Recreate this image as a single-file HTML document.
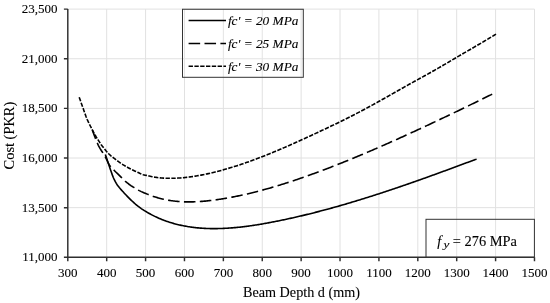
<!DOCTYPE html>
<html><head><meta charset="utf-8"><title>Cost vs Beam Depth</title>
<style>
html,body{margin:0;padding:0;background:#fff;}
svg{display:block;}
text{font-family:"Liberation Serif","Times New Roman",serif;fill:#000;stroke:#000;stroke-width:0.1px;}
.tk{font-size:13px;}
.ax{font-size:14.2px;}
.lg{font-size:13.3px;font-style:italic;}
</style></head><body>
<svg width="550" height="303" viewBox="0 0 550 303">
<rect width="550" height="303" fill="#fff"/>
<path d="M106.69,9.1 V257.3 M145.58,9.1 V257.3 M184.47,9.1 V257.3 M223.36,9.1 V257.3 M262.25,9.1 V257.3 M301.14,9.1 V257.3 M340.03,9.1 V257.3 M378.92,9.1 V257.3 M417.81,9.1 V257.3 M456.70,9.1 V257.3 M495.59,9.1 V257.3 M534.48,9.1 V257.3 M67.8,9.10 H534.48 M67.8,58.74 H534.48 M67.8,108.38 H534.48 M67.8,158.02 H534.48 M67.8,207.66 H534.48" stroke="#e1e1e1" stroke-width="1" fill="none"/>
<path d="M105.30,154.40 L106.30,157.34 L107.30,160.29 L108.30,163.23 L109.30,166.19 L110.30,169.17 L111.30,172.03 L112.30,174.88 L113.30,177.52 L114.30,179.74 L115.30,181.67 L116.30,183.41 L117.30,184.97 L118.30,186.35 L119.30,187.59 L120.30,188.73 L121.30,189.84 L122.30,190.97 L123.30,192.09 L124.30,193.19 L125.30,194.26 L126.30,195.31 L127.30,196.36 L128.30,197.38 L129.30,198.39 L130.30,199.38 L131.30,200.34 L132.30,201.28 L133.30,202.19 L134.30,203.10 L135.30,203.98 L136.30,204.84 L137.30,205.67 L138.30,206.47 L139.30,207.22 L140.30,207.94 L141.30,208.64 L142.30,209.30 L143.30,209.95 L144.30,210.57 L145.30,211.19 L146.30,211.78 L147.30,212.37 L148.30,212.95 L149.30,213.52 L150.30,214.07 L151.30,214.61 L152.30,215.13 L153.30,215.63 L154.30,216.12 L155.30,216.60 L156.30,217.06 L157.30,217.52 L158.30,217.97 L159.30,218.41 L160.30,218.83 L161.30,219.24 L162.30,219.65 L163.30,220.04 L164.30,220.42 L165.30,220.79 L166.30,221.15 L167.30,221.49 L168.30,221.83 L169.30,222.16 L170.30,222.48 L171.30,222.79 L172.30,223.08 L173.30,223.37 L174.30,223.65 L175.30,223.92 L176.30,224.18 L177.30,224.44 L178.30,224.68 L179.30,224.91 L180.30,225.14 L181.30,225.36 L182.30,225.57 L183.30,225.77 L184.30,225.97 L185.30,226.15 L186.30,226.33 L187.30,226.50 L188.30,226.67 L189.30,226.82 L190.30,226.97 L191.30,227.12 L192.30,227.25 L193.30,227.38 L194.30,227.50 L195.30,227.62 L196.30,227.73 L197.30,227.83 L198.30,227.92 L199.30,228.01 L200.30,228.09 L201.30,228.17 L202.30,228.24 L203.30,228.30 L204.30,228.36 L205.30,228.41 L206.30,228.45 L207.30,228.49 L208.30,228.53 L209.30,228.56 L210.30,228.58 L211.30,228.60 L212.30,228.61 L213.30,228.61 L214.30,228.62 L215.30,228.61 L216.30,228.60 L217.30,228.59 L218.30,228.57 L219.30,228.55 L220.30,228.52 L221.30,228.49 L222.30,228.45 L223.30,228.41 L224.30,228.36 L225.30,228.31 L226.30,228.26 L227.30,228.20 L228.30,228.13 L229.30,228.07 L230.30,228.00 L231.30,227.92 L232.30,227.84 L233.30,227.76 L234.30,227.67 L235.30,227.58 L236.30,227.49 L237.30,227.39 L238.30,227.29 L239.30,227.19 L240.30,227.08 L241.30,226.97 L242.30,226.85 L243.30,226.73 L244.30,226.61 L245.30,226.49 L246.30,226.36 L247.30,226.23 L248.30,226.09 L249.30,225.96 L250.30,225.82 L251.30,225.67 L252.30,225.53 L253.30,225.38 L254.30,225.23 L255.30,225.07 L256.30,224.92 L257.30,224.76 L258.30,224.60 L259.30,224.43 L260.30,224.26 L261.30,224.10 L262.30,223.92 L263.30,223.75 L264.30,223.57 L265.30,223.40 L266.30,223.22 L267.30,223.03 L268.30,222.85 L269.30,222.66 L270.30,222.48 L271.30,222.29 L272.30,222.09 L273.30,221.90 L274.30,221.71 L275.30,221.51 L276.30,221.31 L277.30,221.11 L278.30,220.91 L279.30,220.71 L280.30,220.50 L281.30,220.29 L282.30,220.09 L283.30,219.88 L284.30,219.67 L285.30,219.45 L286.30,219.24 L287.30,219.02 L288.30,218.81 L289.30,218.59 L290.30,218.37 L291.30,218.15 L292.30,217.92 L293.30,217.70 L294.30,217.47 L295.30,217.25 L296.30,217.02 L297.30,216.79 L298.30,216.55 L299.30,216.32 L300.30,216.09 L301.30,215.85 L302.30,215.61 L303.30,215.37 L304.30,215.13 L305.30,214.89 L306.30,214.65 L307.30,214.40 L308.30,214.16 L309.30,213.91 L310.30,213.66 L311.30,213.41 L312.30,213.16 L313.30,212.91 L314.30,212.65 L315.30,212.40 L316.30,212.14 L317.30,211.88 L318.30,211.62 L319.30,211.36 L320.30,211.10 L321.30,210.84 L322.30,210.57 L323.30,210.31 L324.30,210.04 L325.30,209.77 L326.30,209.50 L327.30,209.23 L328.30,208.96 L329.30,208.69 L330.30,208.41 L331.30,208.14 L332.30,207.86 L333.30,207.58 L334.30,207.31 L335.30,207.03 L336.30,206.74 L337.30,206.46 L338.30,206.18 L339.30,205.89 L340.30,205.61 L341.30,205.32 L342.30,205.03 L343.30,204.74 L344.30,204.45 L345.30,204.16 L346.30,203.87 L347.30,203.57 L348.30,203.28 L349.30,202.98 L350.30,202.69 L351.30,202.39 L352.30,202.09 L353.30,201.79 L354.30,201.49 L355.30,201.18 L356.30,200.88 L357.30,200.58 L358.30,200.27 L359.30,199.96 L360.30,199.66 L361.30,199.35 L362.30,199.04 L363.30,198.73 L364.30,198.42 L365.30,198.11 L366.30,197.79 L367.30,197.48 L368.30,197.16 L369.30,196.85 L370.30,196.53 L371.30,196.21 L372.30,195.89 L373.30,195.57 L374.30,195.25 L375.30,194.93 L376.30,194.61 L377.30,194.29 L378.30,193.96 L379.30,193.64 L380.30,193.31 L381.30,192.98 L382.30,192.66 L383.30,192.33 L384.30,192.00 L385.30,191.67 L386.30,191.34 L387.30,191.01 L388.30,190.67 L389.30,190.34 L390.30,190.01 L391.30,189.67 L392.30,189.34 L393.30,189.00 L394.30,188.66 L395.30,188.33 L396.30,187.99 L397.30,187.65 L398.30,187.31 L399.30,186.97 L400.30,186.63 L401.30,186.28 L402.30,185.94 L403.30,185.60 L404.30,185.25 L405.30,184.91 L406.30,184.56 L407.30,184.22 L408.30,183.87 L409.30,183.52 L410.30,183.17 L411.30,182.82 L412.30,182.47 L413.30,182.12 L414.30,181.77 L415.30,181.42 L416.30,181.07 L417.30,180.72 L418.30,180.37 L419.30,180.01 L420.30,179.66 L421.30,179.30 L422.30,178.95 L423.30,178.59 L424.30,178.24 L425.30,177.88 L426.30,177.52 L427.30,177.16 L428.30,176.80 L429.30,176.45 L430.30,176.09 L431.30,175.73 L432.30,175.37 L433.30,175.00 L434.30,174.64 L435.30,174.28 L436.30,173.92 L437.30,173.56 L438.30,173.19 L439.30,172.83 L440.30,172.47 L441.30,172.10 L442.30,171.74 L443.30,171.37 L444.30,171.00 L445.30,170.64 L446.30,170.27 L447.30,169.91 L448.30,169.54 L449.30,169.17 L450.30,168.80 L451.30,168.43 L452.30,168.07 L453.30,167.70 L454.30,167.33 L455.30,166.96 L456.30,166.59 L457.30,166.22 L458.30,165.85 L459.30,165.48 L460.30,165.11 L461.30,164.73 L462.30,164.36 L463.30,163.99 L464.30,163.62 L465.30,163.25 L466.30,162.87 L467.30,162.50 L468.30,162.13 L469.30,161.75 L470.30,161.38 L471.30,161.01 L472.30,160.63 L473.30,160.26 L474.30,159.89 L475.30,159.51 L476.30,159.14 L476.50,159.06" stroke="#000" stroke-width="1.6" fill="none" stroke-linejoin="round"/>
<path d="M92.30,130.10 L93.30,132.77 L94.30,135.40 L95.30,137.99 L96.30,140.51 L97.30,142.96 L98.30,145.30 L99.30,147.19 L100.30,148.87 L101.30,150.46 L102.30,151.96 L103.30,153.55 L104.30,155.20 L105.30,156.94 L106.30,158.87 L107.30,161.01 L108.30,163.09 L109.30,164.85 L110.30,166.22 L111.30,167.41 L112.30,168.48 L113.30,169.49 L114.30,170.49 L115.30,171.51 L116.30,172.49 L117.30,173.45 L118.30,174.41 L119.30,175.40 L120.30,176.41 L121.30,177.41 L122.30,178.39 L123.30,179.37 L124.30,180.33 L125.30,181.25 L126.30,182.11 L127.30,182.95 L128.30,183.74 L129.30,184.50 L130.30,185.21 L131.30,185.86 L132.30,186.47 L133.30,187.08 L134.30,187.68 L135.30,188.31 L136.30,188.94 L137.30,189.55 L138.30,190.13 L139.30,190.65 L140.30,191.14 L141.30,191.61 L142.30,192.05 L143.30,192.49 L144.30,192.91 L145.30,193.32 L146.30,193.73 L147.30,194.13 L148.30,194.53 L149.30,194.93 L150.30,195.33 L151.30,195.70 L152.30,196.06 L153.30,196.40 L154.30,196.72 L155.30,197.03 L156.30,197.33 L157.30,197.63 L158.30,197.92 L159.30,198.19 L160.30,198.46 L161.30,198.71 L162.30,198.95 L163.30,199.18 L164.30,199.41 L165.30,199.62 L166.30,199.82 L167.30,200.01 L168.30,200.19 L169.30,200.36 L170.30,200.52 L171.30,200.67 L172.30,200.82 L173.30,200.95 L174.30,201.07 L175.30,201.19 L176.30,201.29 L177.30,201.39 L178.30,201.48 L179.30,201.56 L180.30,201.63 L181.30,201.69 L182.30,201.74 L183.30,201.79 L184.30,201.83 L185.30,201.86 L186.30,201.88 L187.30,201.90 L188.30,201.91 L189.30,201.91 L190.30,201.90 L191.30,201.89 L192.30,201.87 L193.30,201.85 L194.30,201.82 L195.30,201.78 L196.30,201.73 L197.30,201.68 L198.30,201.63 L199.30,201.56 L200.30,201.50 L201.30,201.42 L202.30,201.34 L203.30,201.26 L204.30,201.17 L205.30,201.08 L206.30,200.98 L207.30,200.87 L208.30,200.77 L209.30,200.65 L210.30,200.54 L211.30,200.42 L212.30,200.29 L213.30,200.16 L214.30,200.03 L215.30,199.89 L216.30,199.76 L217.30,199.61 L218.30,199.47 L219.30,199.32 L220.30,199.17 L221.30,199.01 L222.30,198.85 L223.30,198.69 L224.30,198.52 L225.30,198.36 L226.30,198.19 L227.30,198.01 L228.30,197.83 L229.30,197.65 L230.30,197.47 L231.30,197.28 L232.30,197.09 L233.30,196.90 L234.30,196.71 L235.30,196.51 L236.30,196.31 L237.30,196.10 L238.30,195.90 L239.30,195.69 L240.30,195.48 L241.30,195.26 L242.30,195.04 L243.30,194.82 L244.30,194.60 L245.30,194.37 L246.30,194.15 L247.30,193.91 L248.30,193.68 L249.30,193.44 L250.30,193.20 L251.30,192.96 L252.30,192.72 L253.30,192.47 L254.30,192.22 L255.30,191.97 L256.30,191.72 L257.30,191.46 L258.30,191.20 L259.30,190.94 L260.30,190.67 L261.30,190.41 L262.30,190.14 L263.30,189.87 L264.30,189.59 L265.30,189.32 L266.30,189.04 L267.30,188.76 L268.30,188.48 L269.30,188.19 L270.30,187.90 L271.30,187.62 L272.30,187.32 L273.30,187.03 L274.30,186.73 L275.30,186.44 L276.30,186.14 L277.30,185.83 L278.30,185.53 L279.30,185.22 L280.30,184.92 L281.30,184.61 L282.30,184.29 L283.30,183.98 L284.30,183.66 L285.30,183.35 L286.30,183.03 L287.30,182.71 L288.30,182.38 L289.30,182.06 L290.30,181.73 L291.30,181.40 L292.30,181.07 L293.30,180.74 L294.30,180.40 L295.30,180.07 L296.30,179.73 L297.30,179.39 L298.30,179.05 L299.30,178.71 L300.30,178.36 L301.30,178.02 L302.30,177.67 L303.30,177.32 L304.30,176.97 L305.30,176.62 L306.30,176.27 L307.30,175.91 L308.30,175.56 L309.30,175.20 L310.30,174.84 L311.30,174.48 L312.30,174.12 L313.30,173.76 L314.30,173.39 L315.30,173.03 L316.30,172.66 L317.30,172.29 L318.30,171.92 L319.30,171.55 L320.30,171.18 L321.30,170.80 L322.30,170.43 L323.30,170.05 L324.30,169.67 L325.30,169.29 L326.30,168.91 L327.30,168.53 L328.30,168.15 L329.30,167.76 L330.30,167.38 L331.30,166.99 L332.30,166.60 L333.30,166.21 L334.30,165.82 L335.30,165.43 L336.30,165.04 L337.30,164.65 L338.30,164.25 L339.30,163.85 L340.30,163.46 L341.30,163.06 L342.30,162.66 L343.30,162.26 L344.30,161.86 L345.30,161.45 L346.30,161.05 L347.30,160.64 L348.30,160.24 L349.30,159.83 L350.30,159.42 L351.30,159.01 L352.30,158.60 L353.30,158.19 L354.30,157.78 L355.30,157.36 L356.30,156.95 L357.30,156.53 L358.30,156.11 L359.30,155.70 L360.30,155.28 L361.30,154.86 L362.30,154.44 L363.30,154.02 L364.30,153.59 L365.30,153.17 L366.30,152.74 L367.30,152.32 L368.30,151.89 L369.30,151.46 L370.30,151.04 L371.30,150.61 L372.30,150.18 L373.30,149.75 L374.30,149.31 L375.30,148.88 L376.30,148.45 L377.30,148.01 L378.30,147.58 L379.30,147.14 L380.30,146.71 L381.30,146.27 L382.30,145.83 L383.30,145.39 L384.30,144.95 L385.30,144.51 L386.30,144.07 L387.30,143.62 L388.30,143.18 L389.30,142.74 L390.30,142.29 L391.30,141.85 L392.30,141.40 L393.30,140.95 L394.30,140.51 L395.30,140.06 L396.30,139.61 L397.30,139.16 L398.30,138.71 L399.30,138.26 L400.30,137.81 L401.30,137.35 L402.30,136.90 L403.30,136.45 L404.30,135.99 L405.30,135.54 L406.30,135.08 L407.30,134.63 L408.30,134.17 L409.30,133.71 L410.30,133.26 L411.30,132.80 L412.30,132.34 L413.30,131.88 L414.30,131.42 L415.30,130.96 L416.30,130.50 L417.30,130.04 L418.30,129.57 L419.30,129.11 L420.30,128.65 L421.30,128.18 L422.30,127.72 L423.30,127.26 L424.30,126.79 L425.30,126.32 L426.30,125.86 L427.30,125.39 L428.30,124.92 L429.30,124.46 L430.30,123.99 L431.30,123.52 L432.30,123.05 L433.30,122.58 L434.30,122.11 L435.30,121.64 L436.30,121.16 L437.30,120.69 L438.30,120.22 L439.30,119.75 L440.30,119.27 L441.30,118.80 L442.30,118.33 L443.30,117.85 L444.30,117.38 L445.30,116.90 L446.30,116.42 L447.30,115.95 L448.30,115.47 L449.30,114.99 L450.30,114.52 L451.30,114.04 L452.30,113.56 L453.30,113.08 L454.30,112.60 L455.30,112.12 L456.30,111.64 L457.30,111.16 L458.30,110.68 L459.30,110.20 L460.30,109.71 L461.30,109.23 L462.30,108.75 L463.30,108.27 L464.30,107.78 L465.30,107.30 L466.30,106.82 L467.30,106.33 L468.30,105.85 L469.30,105.36 L470.30,104.88 L471.30,104.39 L472.30,103.90 L473.30,103.42 L474.30,102.93 L475.30,102.44 L476.30,101.96 L477.30,101.47 L478.30,100.98 L479.30,100.49 L480.30,100.00 L481.30,99.51 L482.30,99.02 L483.30,98.53 L484.30,98.04 L485.30,97.55 L486.30,97.06 L487.30,96.57 L488.30,96.08 L489.30,95.59 L490.30,95.10 L491.30,94.61 L492.20,94.16" stroke="#000" stroke-width="1.6" fill="none" stroke-dasharray="11.55 4.35" stroke-dashoffset="2.2" stroke-linejoin="round"/>
<path d="M79.20,97.20 L80.20,100.08 L81.20,102.93 L82.20,105.76 L83.20,108.56 L84.20,111.42 L85.20,114.28 L86.20,117.00 L87.20,119.47 L88.20,121.70 L89.20,123.78 L90.20,125.76 L91.20,127.71 L92.20,129.67 L93.20,131.61 L94.20,133.49 L95.20,135.28 L96.20,136.96 L97.20,138.54 L98.20,140.07 L99.20,141.61 L100.20,143.20 L101.20,144.72 L102.20,146.07 L103.20,147.32 L104.20,148.55 L105.20,149.82 L106.20,151.08 L107.20,152.26 L108.20,153.30 L109.20,154.26 L110.20,155.17 L111.20,156.03 L112.20,156.85 L113.20,157.65 L114.20,158.43 L115.20,159.21 L116.20,159.97 L117.20,160.72 L118.20,161.45 L119.20,162.17 L120.20,162.86 L121.20,163.53 L122.20,164.18 L123.20,164.81 L124.20,165.42 L125.20,166.02 L126.20,166.60 L127.20,167.17 L128.20,167.72 L129.20,168.26 L130.20,168.78 L131.20,169.30 L132.20,169.80 L133.20,170.28 L134.20,170.74 L135.20,171.19 L136.20,171.64 L137.20,172.09 L138.20,172.56 L139.20,173.03 L140.20,173.50 L141.20,173.94 L142.20,174.33 L143.20,174.65 L144.20,174.92 L145.20,175.17 L146.20,175.40 L147.20,175.63 L148.20,175.85 L149.20,176.07 L150.20,176.30 L151.20,176.52 L152.20,176.73 L153.20,176.93 L154.20,177.11 L155.20,177.27 L156.20,177.41 L157.20,177.55 L158.20,177.67 L159.20,177.78 L160.20,177.88 L161.20,177.97 L162.20,178.04 L163.20,178.11 L164.20,178.16 L165.20,178.21 L166.20,178.25 L167.20,178.27 L168.20,178.29 L169.20,178.30 L170.20,178.31 L171.20,178.30 L172.20,178.29 L173.20,178.27 L174.20,178.24 L175.20,178.20 L176.20,178.16 L177.20,178.11 L178.20,178.06 L179.20,178.00 L180.20,177.93 L181.20,177.85 L182.20,177.77 L183.20,177.68 L184.20,177.59 L185.20,177.49 L186.20,177.38 L187.20,177.27 L188.20,177.15 L189.20,177.03 L190.20,176.90 L191.20,176.76 L192.20,176.62 L193.20,176.47 L194.20,176.32 L195.20,176.16 L196.20,175.99 L197.20,175.83 L198.20,175.65 L199.20,175.47 L200.20,175.29 L201.20,175.10 L202.20,174.91 L203.20,174.71 L204.20,174.50 L205.20,174.29 L206.20,174.08 L207.20,173.87 L208.20,173.64 L209.20,173.42 L210.20,173.19 L211.20,172.95 L212.20,172.72 L213.20,172.48 L214.20,172.23 L215.20,171.98 L216.20,171.73 L217.20,171.47 L218.20,171.21 L219.20,170.95 L220.20,170.68 L221.20,170.41 L222.20,170.14 L223.20,169.86 L224.20,169.58 L225.20,169.29 L226.20,169.01 L227.20,168.72 L228.20,168.42 L229.20,168.13 L230.20,167.83 L231.20,167.52 L232.20,167.22 L233.20,166.91 L234.20,166.59 L235.20,166.28 L236.20,165.96 L237.20,165.64 L238.20,165.31 L239.20,164.99 L240.20,164.66 L241.20,164.32 L242.20,163.99 L243.20,163.65 L244.20,163.30 L245.20,162.96 L246.20,162.61 L247.20,162.26 L248.20,161.91 L249.20,161.55 L250.20,161.19 L251.20,160.83 L252.20,160.47 L253.20,160.10 L254.20,159.73 L255.20,159.36 L256.20,158.99 L257.20,158.61 L258.20,158.23 L259.20,157.85 L260.20,157.47 L261.20,157.08 L262.20,156.69 L263.20,156.30 L264.20,155.91 L265.20,155.51 L266.20,155.11 L267.20,154.71 L268.20,154.31 L269.20,153.91 L270.20,153.50 L271.20,153.09 L272.20,152.68 L273.20,152.27 L274.20,151.85 L275.20,151.44 L276.20,151.02 L277.20,150.60 L278.20,150.18 L279.20,149.75 L280.20,149.33 L281.20,148.90 L282.20,148.47 L283.20,148.04 L284.20,147.61 L285.20,147.17 L286.20,146.74 L287.20,146.30 L288.20,145.86 L289.20,145.42 L290.20,144.98 L291.20,144.54 L292.20,144.09 L293.20,143.65 L294.20,143.20 L295.20,142.76 L296.20,142.31 L297.20,141.86 L298.20,141.41 L299.20,140.95 L300.20,140.50 L301.20,140.05 L302.20,139.59 L303.20,139.14 L304.20,138.68 L305.20,138.22 L306.20,137.76 L307.20,137.30 L308.20,136.84 L309.20,136.38 L310.20,135.92 L311.20,135.46 L312.20,135.00 L313.20,134.53 L314.20,134.07 L315.20,133.61 L316.20,133.14 L317.20,132.67 L318.20,132.21 L319.20,131.74 L320.20,131.27 L321.20,130.80 L322.20,130.34 L323.20,129.86 L324.20,129.39 L325.20,128.92 L326.20,128.45 L327.20,127.97 L328.20,127.50 L329.20,127.02 L330.20,126.55 L331.20,126.07 L332.20,125.59 L333.20,125.11 L334.20,124.62 L335.20,124.14 L336.20,123.66 L337.20,123.17 L338.20,122.68 L339.20,122.20 L340.20,121.71 L341.20,121.22 L342.20,120.72 L343.20,120.23 L344.20,119.73 L345.20,119.24 L346.20,118.74 L347.20,118.24 L348.20,117.74 L349.20,117.23 L350.20,116.73 L351.20,116.22 L352.20,115.71 L353.20,115.20 L354.20,114.69 L355.20,114.17 L356.20,113.66 L357.20,113.14 L358.20,112.62 L359.20,112.10 L360.20,111.58 L361.20,111.05 L362.20,110.52 L363.20,109.99 L364.20,109.46 L365.20,108.93 L366.20,108.39 L367.20,107.85 L368.20,107.31 L369.20,106.77 L370.20,106.23 L371.20,105.68 L372.20,105.13 L373.20,104.58 L374.20,104.03 L375.20,103.48 L376.20,102.92 L377.20,102.37 L378.20,101.81 L379.20,101.25 L380.20,100.69 L381.20,100.13 L382.20,99.57 L383.20,99.00 L384.20,98.44 L385.20,97.88 L386.20,97.31 L387.20,96.75 L388.20,96.18 L389.20,95.61 L390.20,95.05 L391.20,94.48 L392.20,93.91 L393.20,93.35 L394.20,92.78 L395.20,92.21 L396.20,91.64 L397.20,91.08 L398.20,90.51 L399.20,89.94 L400.20,89.38 L401.20,88.81 L402.20,88.25 L403.20,87.69 L404.20,87.12 L405.20,86.56 L406.20,86.00 L407.20,85.44 L408.20,84.88 L409.20,84.32 L410.20,83.77 L411.20,83.21 L412.20,82.66 L413.20,82.11 L414.20,81.55 L415.20,81.00 L416.20,80.45 L417.20,79.90 L418.20,79.35 L419.20,78.80 L420.20,78.25 L421.20,77.70 L422.20,77.15 L423.20,76.60 L424.20,76.05 L425.20,75.49 L426.20,74.94 L427.20,74.39 L428.20,73.83 L429.20,73.27 L430.20,72.71 L431.20,72.15 L432.20,71.59 L433.20,71.02 L434.20,70.45 L435.20,69.88 L436.20,69.31 L437.20,68.74 L438.20,68.16 L439.20,67.58 L440.20,67.00 L441.20,66.42 L442.20,65.84 L443.20,65.25 L444.20,64.67 L445.20,64.08 L446.20,63.49 L447.20,62.90 L448.20,62.32 L449.20,61.73 L450.20,61.14 L451.20,60.55 L452.20,59.96 L453.20,59.37 L454.20,58.78 L455.20,58.19 L456.20,57.60 L457.20,57.02 L458.20,56.43 L459.20,55.85 L460.20,55.26 L461.20,54.68 L462.20,54.10 L463.20,53.51 L464.20,52.93 L465.20,52.35 L466.20,51.77 L467.20,51.19 L468.20,50.60 L469.20,50.02 L470.20,49.44 L471.20,48.86 L472.20,48.28 L473.20,47.70 L474.20,47.11 L475.20,46.53 L476.20,45.95 L477.20,45.36 L478.20,44.78 L479.20,44.19 L480.20,43.60 L481.20,43.01 L482.20,42.43 L483.20,41.84 L484.20,41.24 L485.20,40.65 L486.20,40.06 L487.20,39.46 L488.20,38.87 L489.20,38.27 L490.20,37.67 L491.20,37.07 L492.20,36.46 L493.20,35.86 L494.20,35.25 L495.20,34.64 L496.00,34.15" stroke="#000" stroke-width="1.6" fill="none" stroke-dasharray="4.35 1.45" stroke-linejoin="round"/>
<path d="M67.8,9.1 V257.3 H534.48 M67.80,257.3 v4 M106.69,257.3 v4 M145.58,257.3 v4 M184.47,257.3 v4 M223.36,257.3 v4 M262.25,257.3 v4 M301.14,257.3 v4 M340.03,257.3 v4 M378.92,257.3 v4 M417.81,257.3 v4 M456.70,257.3 v4 M495.59,257.3 v4 M534.48,257.3 v4 M67.8,9.10 h-3.9 M67.8,58.74 h-3.9 M67.8,108.38 h-3.9 M67.8,158.02 h-3.9 M67.8,207.66 h-3.9 M67.8,257.30 h-3.9" stroke="#2e2e2e" stroke-width="1.45" fill="none"/>
<text class="tk" x="57.5" y="13.1" text-anchor="end">23,500</text>
<text class="tk" x="57.5" y="62.7" text-anchor="end">21,000</text>
<text class="tk" x="57.5" y="112.4" text-anchor="end">18,500</text>
<text class="tk" x="57.5" y="162.0" text-anchor="end">16,000</text>
<text class="tk" x="57.5" y="211.7" text-anchor="end">13,500</text>
<text class="tk" x="57.5" y="261.3" text-anchor="end">11,000</text>
<text class="tk" x="67.8" y="276.6" text-anchor="middle">300</text>
<text class="tk" x="106.7" y="276.6" text-anchor="middle">400</text>
<text class="tk" x="145.6" y="276.6" text-anchor="middle">500</text>
<text class="tk" x="184.5" y="276.6" text-anchor="middle">600</text>
<text class="tk" x="223.4" y="276.6" text-anchor="middle">700</text>
<text class="tk" x="262.2" y="276.6" text-anchor="middle">800</text>
<text class="tk" x="301.1" y="276.6" text-anchor="middle">900</text>
<text class="tk" x="340.0" y="276.6" text-anchor="middle">1000</text>
<text class="tk" x="378.9" y="276.6" text-anchor="middle">1100</text>
<text class="tk" x="417.8" y="276.6" text-anchor="middle">1200</text>
<text class="tk" x="456.7" y="276.6" text-anchor="middle">1300</text>
<text class="tk" x="495.6" y="276.6" text-anchor="middle">1400</text>
<text class="tk" x="534.5" y="276.6" text-anchor="middle">1500</text>
<text class="ax" x="301.5" y="296.7" text-anchor="middle">Beam Depth d (mm)</text>
<text class="ax" style="font-size:14.4px" transform="translate(13.7,135.6) rotate(-90)" text-anchor="middle">Cost (PKR)</text>
<rect x="182.5" y="9.25" width="120.8" height="68.05" fill="#fff" fill-opacity="0.1" stroke="#333" stroke-width="1"/>
<path d="M188.6,20.5 H226" stroke="#000" stroke-width="1.6" fill="none"/>
<text class="lg" x="227.9" y="24.9">fc' = 20 MPa</text>
<path d="M188.6,43.5 H226" stroke="#000" stroke-width="1.6" stroke-dasharray="11.55 4.35" fill="none"/>
<text class="lg" x="227.9" y="47.9">fc' = 25 MPa</text>
<path d="M188.6,66.3 H226" stroke="#000" stroke-width="1.6" stroke-dasharray="4.35 1.45" fill="none"/>
<text class="lg" x="227.9" y="70.7">fc' = 30 MPa</text>
<rect x="426" y="219.3" width="108.4" height="38" fill="#fff" fill-opacity="0.1" stroke="#333" stroke-width="1"/>
<text x="437.2" y="245.6" style="font-size:14.4px;font-style:italic">f</text><text transform="translate(443.6,247.6) scale(1.28,1)" style="font-size:10.4px;font-style:italic">y</text><text x="452.8" y="245.6" style="font-size:14.4px">= 276 MPa</text>
</svg>
</body></html>
